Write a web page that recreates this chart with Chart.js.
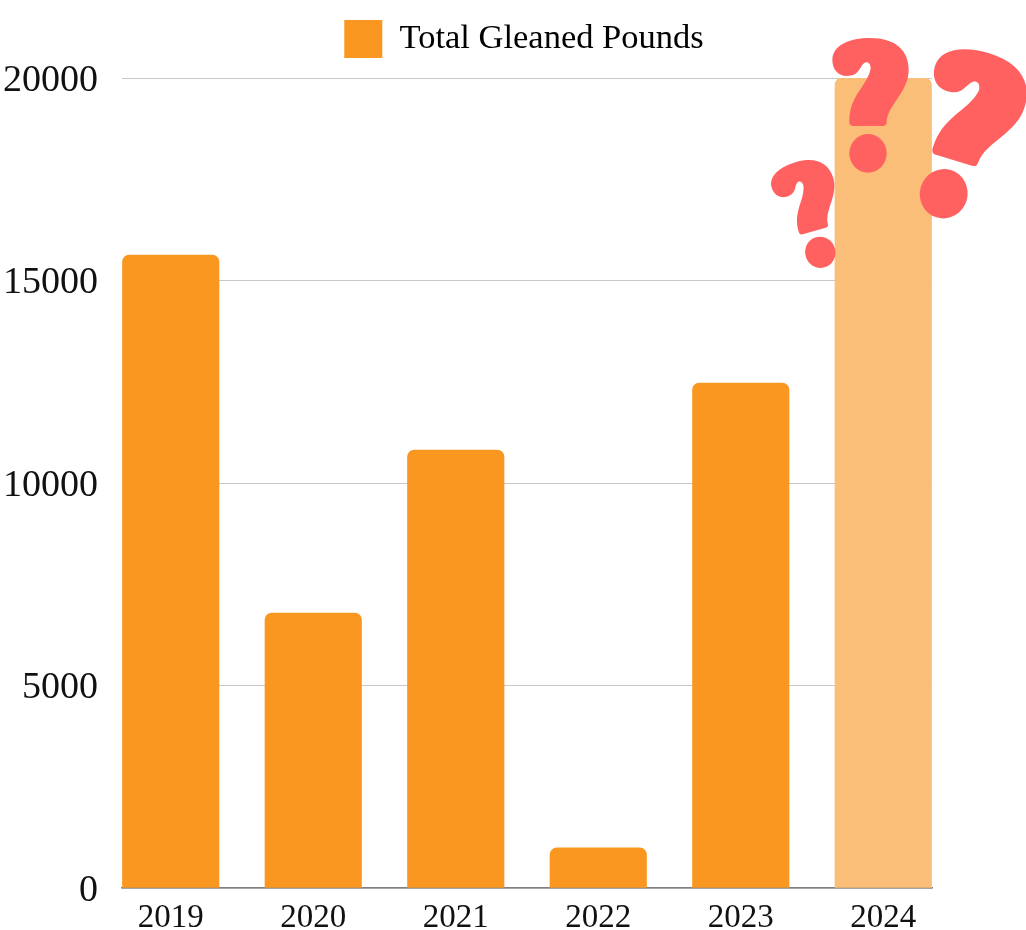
<!DOCTYPE html>
<html>
<head>
<meta charset="utf-8">
<title>Total Gleaned Pounds</title>
<script src="https://cdn.jsdelivr.net/npm/chart.js@4"></script>
<style>
  html, body { margin: 0; padding: 0; background: #fff; }
  canvas { display: block; }
</style>
</head>
<body>
<canvas id="gleanChart" width="1026" height="930"></canvas>
<script>
const years = [2019, 2020, 2021, 2022, 2023, 2024];
const pounds = [15630, 6790, 10815, 990, 12470, 20000];
const seriesName = 'Total Gleaned Pounds';
const barColors = ['#F99721', '#F99721', '#F99721', '#F99721', '#F99721', '#FBBE78'];

// hand drawn question mark, dot sits at 324,400
const hook = new Path2D('M217 120 C217 75 270 54 330 54 C405 54 446 90 446 150 C446 215 383 255 380 305 C380 314 376 318 368 318 L280 318 C272 318 268 314 268 305 C268 225 322 200 332 145 C332 130 322 122 312 130 C298 140 300 168 260 168 C235 168 217 148 217 120 Z');
const questionMarks = [
  { x: 868, y: 153.3, scale: 1, angle: 0 },
  { x: 943.7, y: 193.7, scale: 1.28, angle: 17 },
  { x: 820.3, y: 252.3, scale: 0.81, angle: -16 }
];

// legend sits off centre in the original, nudge it after layout
const legendNudge = {
  id: 'legendNudge',
  afterLayout(chart) {
    chart.legend.left += 58;
    chart.legend.right += 58;
    chart.legend.top -= 10;
    chart.legend.bottom -= 10;
  }
};

const questionMarkPlugin = {
  id: 'questionMarks',
  afterDraw(chart) {
    const ctx = chart.ctx;
    ctx.save();
    ctx.fillStyle = '#FF6161';
    questionMarks.forEach(m => {
      ctx.save();
      ctx.translate(m.x, m.y);
      ctx.rotate(m.angle * Math.PI / 180);
      ctx.scale(m.scale / 3, m.scale / 3);
      ctx.translate(-324, -400);
      ctx.fill(hook);
      ctx.beginPath();
      ctx.ellipse(324, 400, 56, 58, 0, 0, Math.PI * 2);
      ctx.fill();
      ctx.restore();
    });
    ctx.restore();
  }
};

new Chart(document.getElementById('gleanChart'), {
  type: 'bar',
  data: {
    labels: years,
    datasets: [{
      label: seriesName,
      data: pounds,
      backgroundColor: barColors,
      barThickness: 96.5,
      borderRadius: { topLeft: 7, topRight: 7, bottomLeft: 0, bottomRight: 0 },
      borderSkipped: false
    }]
  },
  options: {
    responsive: false,
    animation: false,
    devicePixelRatio: 1,
    layout: { padding: { top: 10, right: 94 } },
    plugins: {
      tooltip: { enabled: false },
      legend: {
        position: 'top',
        onClick: null,
        labels: {
          boxWidth: 38,
          boxHeight: 38,
          padding: 20,
          color: '#111',
          font: { family: '"Liberation Serif"', size: 34.5 },
          generateLabels: () => [{
            text: seriesName,
            fillStyle: '#F99721',
            strokeStyle: '#F99721',
            lineWidth: 0
          }]
        }
      }
    },
    scales: {
      x: {
        type: 'linear',
        min: 2019 - 0.342,
        max: 2024 + 0.342,
        offset: false,
        afterFit(scale) { scale.height = 42; },
        border: { color: '#808080', width: 1.5 },
        grid: { display: false },
        ticks: {
          stepSize: 1,
          includeBounds: false,
          autoSkip: false,
          maxRotation: 0,
          padding: 3,
          color: '#111',
          font: { family: '"Liberation Serif"', size: 33 },
          callback: v => String(v)
        }
      },
      y: {
        min: 0,
        max: 20000,
        afterFit(scale) {
          scale.width = 122;
          // tick label overflow would otherwise push the axis up
          scale.paddingTop = 0;
          scale.paddingBottom = 0;
        },
        border: { display: false },
        grid: { color: '#C8C8C8', lineWidth: 1, drawTicks: false },
        ticks: {
          stepSize: 5000,
          padding: 24,
          labelOffset: 3,
          color: '#111',
          font: { family: '"Liberation Serif"', size: 38 },
          callback: v => String(v)
        }
      }
    }
  },
  plugins: [legendNudge, questionMarkPlugin]
});
</script>
</body>
</html>
